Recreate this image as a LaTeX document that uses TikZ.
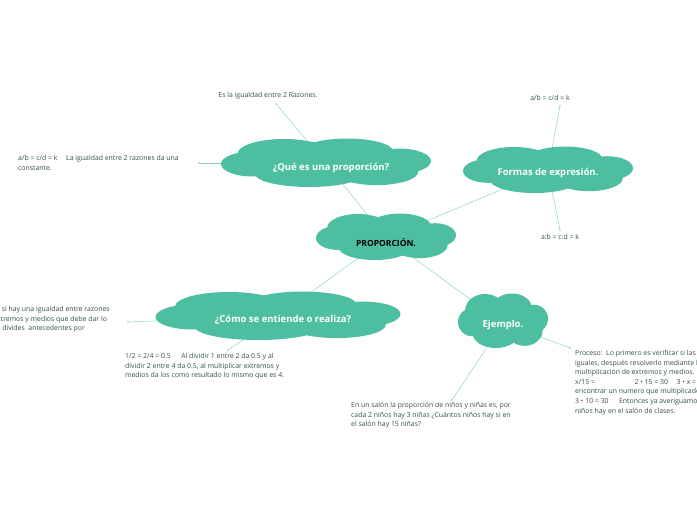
\documentclass[tikz,border=0pt]{standalone}
\usepackage{fontspec}
\setmainfont{Open Sans}
\definecolor{teal1}{HTML}{4DBFA0}
\definecolor{txt}{HTML}{33524C}
\definecolor{lin}{HTML}{8FD6C2}
\newcommand\mycloud[4]{%
 \fill[teal1] (#1,#2) ellipse ({0.42*#3} and {0.28*#4});
 \fill[teal1] ({#1-0.2*#3},{#2-0.2*#4}) ellipse ({0.22*#3} and {0.3*#4});
 \fill[teal1] ({#1+0.1*#3},{#2-0.24*#4}) ellipse ({0.22*#3} and {0.27*#4});
 \fill[teal1] ({#1-0.08*#3},{#2+0.22*#4}) ellipse ({0.26*#3} and {0.28*#4});
 \fill[teal1] ({#1+0.24*#3},{#2+0.18*#4}) ellipse ({0.2*#3} and {0.28*#4});
 \fill[teal1] ({#1-0.35*#3},{#2+0.02*#4}) ellipse ({0.15*#3} and {0.26*#4});
 \fill[teal1] ({#1+0.35*#3},{#2-0.04*#4}) ellipse ({0.15*#3} and {0.26*#4});}
\begin{document}
\begin{tikzpicture}[x=1pt,y=-1pt,
 cl/.style={text=white,font=\bfseries\fontsize{9.5}{11}\selectfont,inner sep=0pt},
 tx/.style={text=txt,font=\fontsize{6.9}{9.6}\selectfont,align=left,inner sep=0pt},
 ln/.style={draw=lin,line width=0.5pt},
 dot/.style={circle,fill=lin,inner sep=0.6pt}]
\useasboundingbox (0,0) rectangle (697,520);
\clip (0,0) rectangle (697,520);
\fill[white] (0,0) rectangle (697,520);
\node[tx,anchor=center] (t1) at (268,96) {Es la igualdad entre 2 Razones.};
\node[tx,anchor=north west] (t2) at (18,155) {a/b = c/d = k \quad La igualdad entre 2 razones da una\\constante.};
\node[tx,anchor=center] (t3) at (550,98) {a/b = c/d = k};
\node[tx,anchor=center] (t4) at (560,237) {a:b = c:d = k};
\node[tx,anchor=north west] (t5) at (-3,306) {r si hay una igualdad entre razones\\xtremos y medios que debe dar lo\\s divides\ \ antecedentes por};
\node[tx,anchor=north west] (t6) at (125,353) {1/2 = 2/4 = 0.5 \quad\ Al dividir 1 entre 2 da 0.5 y al\\dividir 2 entre 4 da 0.5, al multiplicar extremos y\\medios da los como resultado lo mismo que es 4.};
\node[tx,anchor=north west] (t7) at (351,402) {En un salón la proporción de niños y niñas es, por\\cada 2 niños hay 3 niñas ¿Cuántos niños hay si en\\el salón hay 15 niñas?};
\node[tx,anchor=north west] (t8) at (575,350) {Proceso:\ \ Lo primero es verificar si las razones son\\iguales, después resolverlo mediante la\\multiplicación de extremos y medios.\\x/15 = \hspace{36pt} 2 • 15 = 30 \quad 3 • x = 30\\encontrar un numero que multiplicado por\\3 • 10 = 30 \quad\ Entonces ya averiguamos cuantos\\niños hay en el salón de clases.};
\coordinate (c1) at (276,104);
\coordinate (c2) at (199,163);
\coordinate (c3) at (560,106);
\coordinate (c4) at (560,230);
\coordinate (c5) at (128,322);
\coordinate (c6) at (228,350);
\coordinate (c7) at (452,400);
\coordinate (c8) at (570,348);
\coordinate (q) at (326,163);
\coordinate (f) at (548,170);
\coordinate (p) at (386,238);
\coordinate (k) at (278,316);
\coordinate (e) at (503,323);
\draw[ln] (q) -- (p) -- (f);
\draw[ln] (p) -- (k); \draw[ln] (p) -- (e);
\draw[ln] (q) -- (c1); \draw[ln] (q) -- (c2);
\draw[ln] (f) -- (c3); \draw[ln] (f) -- (c4);
\draw[ln] (k) -- (c5); \draw[ln] (k) -- (c6);
\draw[ln] (e) -- (c7); \draw[ln] (e) -- (c8);
\foreach \c in {c1,c2,c3,c4,c5,c6,c7,c8} \node[dot] at (\c) {};
\mycloud{326}{163}{210}{48}
\mycloud{548}{170}{170}{46}
\mycloud{386}{237}{140}{46}
\mycloud{278}{316}{245}{48}
\mycloud{503}{321}{90}{54}
\node[cl] (Q) at (331,168) {¿Qué es una proporción?};
\node[cl] (F) at (548,173) {Formas de expresión.};
\node[cl,text=black,font=\bfseries\fontsize{8.5}{10}\selectfont] (P) at (386,243) {PROPORCIÓN.};
\node[cl] (K) at (283,320) {¿Cómo se entiende o realiza?};
\node[cl] (E) at (503,325) {Ejemplo.};
\end{tikzpicture}
\end{document}
